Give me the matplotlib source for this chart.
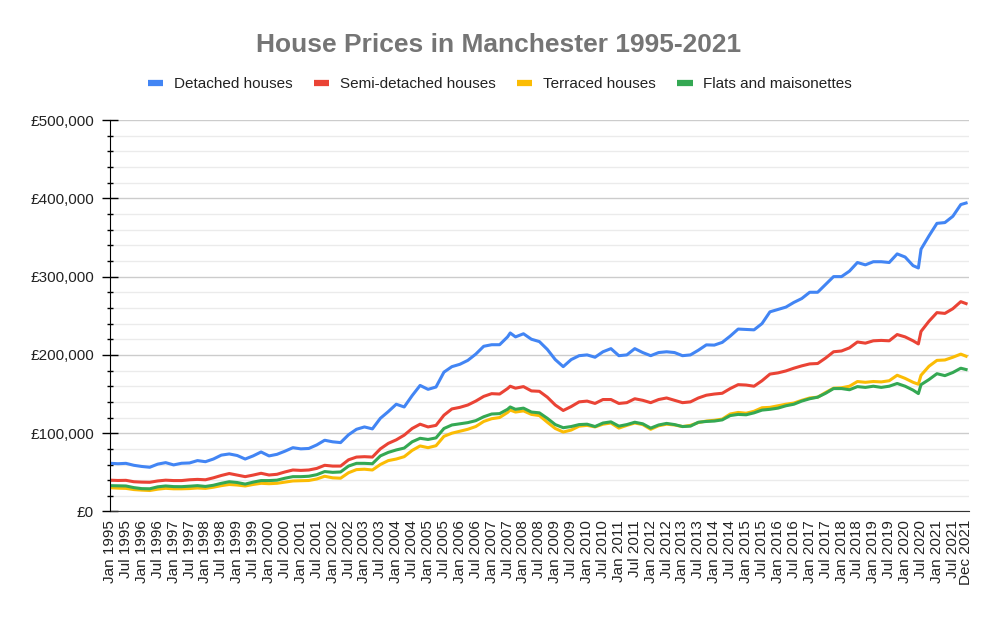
import matplotlib
matplotlib.use('Agg')
import matplotlib.pyplot as plt
from matplotlib import font_manager
from matplotlib.lines import Line2D
from matplotlib.ticker import MultipleLocator, StrMethodFormatter

# month offsets from Jan 1995 (quarterly, plus a few turning points)
months = (list(range(0, 151, 3)) + [151] + list(range(153, 304, 3)) + [305]
          + list(range(306, 322, 3)) + [323])

# prices in thousands of pounds
detached = [61.6, 61, 61.5, 59, 57.5, 56.5, 60.5, 62.4, 59.5, 61.6,
            62, 65, 63.6, 67, 72, 73.5, 71.5, 67, 71, 76,
            71, 73, 77, 81.5, 80, 80.5, 85, 91, 89, 88,
            98, 105, 108, 105.5, 119, 127.6, 137, 133.5, 148, 161,
            156, 159, 178, 185, 188, 193, 201, 211, 213, 213,
            223, 228,
            223, 227, 220, 217, 207, 194, 185, 194, 199, 200,
            197, 204, 208, 199, 200, 208, 203, 199, 203, 204,
            203, 199, 200, 206, 212.8, 212.5, 216, 224, 233, 232.5,
            232, 240, 255, 258, 261, 267, 272, 280, 280, 290,
            300, 300, 307, 318, 315, 319, 319, 318, 329, 325,
            314, 311,
            335, 352, 368, 369, 377, 392, 394]
semi = [40, 39.6, 39.8, 38, 37.5, 37.3, 39, 40, 39.5, 39.5,
        40.5, 41, 40.5, 43, 46, 48.5, 46.5, 44.5, 46.5, 48.8,
        46.6, 47.5, 50.5, 53, 52.5, 53, 55, 59, 58, 58,
        66, 69.5, 70, 69.5, 80, 87, 91.5, 97.5, 106, 111.5,
        108, 110, 123, 131, 133, 136, 141, 147, 150.5, 150,
        157, 160,
        157.5, 159.5, 154, 153.5, 146, 136, 129, 134, 140, 141,
        138, 143, 143, 138, 139, 144, 142, 139, 143, 145,
        142, 139, 140, 145, 148.5, 150, 151, 157, 162, 161.5,
        160, 167, 175.5, 177, 179.5, 183, 186, 188.5, 189, 196,
        204, 205, 209, 216.5, 215, 218, 218.5, 218, 226, 223,
        218, 214,
        230, 243, 254, 253, 259, 268, 265.5]
terraced = [30.4, 29.8, 29.5, 28, 27.3, 26.8, 28.5, 29.6, 29, 29,
            29.3, 30, 29.5, 31, 33, 34.5, 33.8, 32.6, 34.5, 36,
            35.5, 36, 37.5, 39, 39.3, 39.6, 41.5, 45, 43, 42.5,
            49.5, 53.5, 54, 53, 60, 65, 67, 70, 78, 83.7,
            81.5, 84, 96, 100, 102.5, 105, 108.5, 115, 118.5, 120,
            126.5, 129.5,
            127, 128.5, 124, 122.5, 114, 106, 101.5, 104, 109, 110,
            108, 111.5, 113, 106.5, 110, 113, 111, 105, 109.5, 111.5,
            110.5, 108.5, 110, 113.6, 115.5, 116.5, 118, 124.5, 126.5, 125.5,
            128, 132.5, 133, 135, 137, 138.5, 142, 145, 146, 152,
            157.5, 158, 160, 166, 165, 166, 165.5, 167, 174, 170,
            165, 162.5,
            174, 185.5, 193, 193.5, 197, 201, 198.3]
flats = [33, 32.8, 32.6, 30.5, 29.2, 29, 31.5, 32.6, 31.8, 31.7,
         32.3, 33, 32, 33.5, 36, 38, 37, 35, 37.5, 39.5,
         39.5, 40, 42.5, 44.5, 44.5, 45, 47, 51, 50, 50.5,
         58, 61.5, 61.5, 61, 71, 75.5, 78.6, 81, 89, 93.5,
         92, 94, 106, 110.5, 112, 113.5, 116, 121, 124.5, 125,
         130.5, 133.5,
         130.5, 132, 127, 126, 119, 111, 107, 108.5, 111, 111.5,
         108.5, 113, 114.5, 109, 111, 114, 112, 106.5, 110.5, 112.5,
         111, 108.5, 109, 114, 115, 115.5, 117, 122.5, 124, 123.5,
         126, 129.5, 130.5, 132, 135, 137, 141, 144, 146, 151,
         157, 157, 155.5, 159.5, 158.5, 160, 158.5, 160, 163.5, 160,
         155, 150.6,
         162, 168.5, 176, 173.5, 177.5, 183, 181.3]

series_names = ['Detached houses', 'Semi-detached houses',
                'Terraced houses', 'Flats and maisonettes']
series_colors = ['#4285F4', '#EA4335', '#FBBC04', '#34A853']

tick_months = list(range(0, 319, 6)) + [323]
tick_labels = ['%s %d' % ('Jan' if m % 12 == 0 else 'Jul', 1995 + m // 12)
               for m in tick_months[:-1]] + ['Dec 2021']

installed = {f.name for f in font_manager.fontManager.ttflist}
base_font = 'Liberation Sans' if 'Liberation Sans' in installed else 'DejaVu Sans'
title_font = 'Liberation Sans Narrow' if 'Liberation Sans Narrow' in installed else base_font
plt.rcParams['font.family'] = [base_font, 'DejaVu Sans']

fig = plt.figure(figsize=(10, 6.17), dpi=100)
ax = fig.add_axes([0.110, 0.171, 0.859, 0.6345])

for vals, name, col in zip([detached, semi, terraced, flats], series_names, series_colors):
    ax.plot(months, [v * 1000 for v in vals], color=col, lw=2.2, label=name,
            solid_joinstyle='round', zorder=3)

ax.set_xlim(0, 324.1)
ax.set_ylim(0, 500000)
ax.yaxis.set_major_locator(MultipleLocator(100000))
ax.yaxis.set_minor_locator(MultipleLocator(20000))
ax.yaxis.set_major_formatter(StrMethodFormatter('£{x:,.0f}'))
ax.grid(which='major', axis='y', color='#cccccc', lw=1, zorder=0)
ax.grid(which='minor', axis='y', color='#ebebeb', lw=1, zorder=0)
ax.tick_params(axis='y', which='major', direction='inout', length=11, width=1,
               color='black', pad=6, labelsize=11, labelcolor='#222222')
ax.tick_params(axis='y', which='minor', direction='inout', length=4, width=1,
               color='black')
ax.set_xticks(tick_months)
ax.set_xticklabels(tick_labels, rotation=90, fontsize=11, color='#222222')
ax.tick_params(axis='x', length=0, pad=6)
for s in ['top', 'right']:
    ax.spines[s].set_visible(False)
ax.spines['left'].set_color('black')
ax.spines['bottom'].set_color('#333333')
ax.spines['left'].set_zorder(4)

fig.text(0.499, 1 - 52 / 617, 'House Prices in Manchester 1995-2021',
         ha='center', va='baseline', fontsize=19, fontweight='bold',
         color='#757575', family=[title_font, 'DejaVu Sans'])

handles = [Line2D([], [], color=c, lw=4.5, solid_capstyle='butt') for c in series_colors]
fig.legend(handles, series_names, loc='center', bbox_to_anchor=(0.5, 1 - 84 / 617),
           ncol=4, frameon=False, fontsize=11, handlelength=1.0,
           handletextpad=0.7, columnspacing=1.4, labelcolor='#222222')

fig.savefig('out.png', dpi=100)
